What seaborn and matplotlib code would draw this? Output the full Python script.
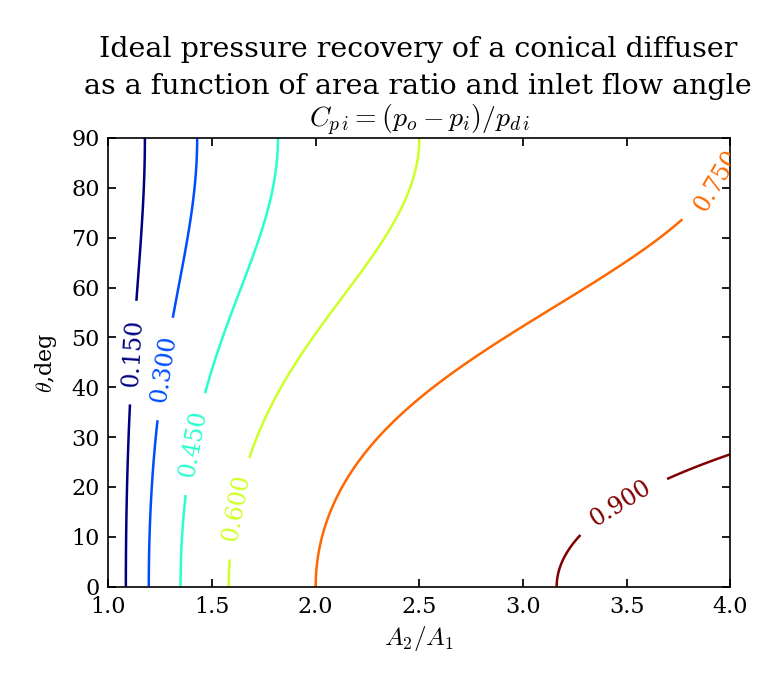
#Ideal pressure recovery of a conical diffuser
import numpy as np
import matplotlib
matplotlib.use("Agg")
import matplotlib.pyplot as plt
import seaborn as sns

#axis grids and contour levels
area_ratio = np.linspace(1.0, 4.0, 301)
theta_deg = np.linspace(0.0, 90.0, 181)
levels = [0.15, 0.30, 0.45, 0.60, 0.75, 0.90]
#where the contour labels sit (x, y)
label_spots = [(1.10, 47), (1.22, 44), (1.37, 29), (1.59, 16), (3.95, 81), (3.47, 17)]

#Cpi = 1 - (axial part)/AR^2 - (swirl part)/AR  (angular momentum conserved)
AR, TH = np.meshgrid(area_ratio, theta_deg)
t = np.radians(TH)
cpi = 1.0 - np.cos(t) ** 2 / AR ** 2 - np.sin(t) ** 2 / AR

#style
sns.set_theme(style="ticks", rc={
    "xtick.direction": "in", "ytick.direction": "in",
    "xtick.top": True, "ytick.right": True,
    "axes.edgecolor": "black", "axes.linewidth": 1.2,
    "xtick.major.size": 6, "ytick.major.size": 6,
    "text.color": "black", "axes.labelcolor": "black",
    "mathtext.fontset": "cm",
})
plt.rcParams["font.family"] = ["DejaVu Serif"]

fig = plt.figure(figsize=(7.68, 6.83), dpi=100)
ax = fig.add_axes([0.141, 0.141, 0.810, 0.657])

cs = ax.contour(AR, TH, cpi, levels=levels, cmap="jet", linewidths=1.8)
ax.clabel(cs, fmt="%1.3f", fontsize=17, inline=True, inline_spacing=18,
          manual=label_spots)

ax.set_xlim(1.0, 4.0)
ax.set_ylim(0, 90)
ax.set_xticks(np.arange(1.0, 4.01, 0.5))
ax.set_yticks(np.arange(0, 91, 10))
ax.tick_params(labelsize=16, colors="black")
ax.tick_params(axis="x", pad=7)
ax.tick_params(axis="y", pad=6)

ax.set_xlabel(r"$A_2/A_1$", fontsize=18, labelpad=4)
ax.set_ylabel(r"$\theta$,deg", fontsize=16, labelpad=9)
ax.set_title(r"$C_{p\,i} = (p_o - p_i)/p_{d\,i}$", fontsize=20, pad=3)
fig.suptitle("Ideal pressure recovery of a conical diffuser\n"
             "as a function of area ratio and inlet flow angle",
             fontsize=20.5, x=0.544, y=0.947, linespacing=1.45)

fig.savefig("out.png", dpi=100)
